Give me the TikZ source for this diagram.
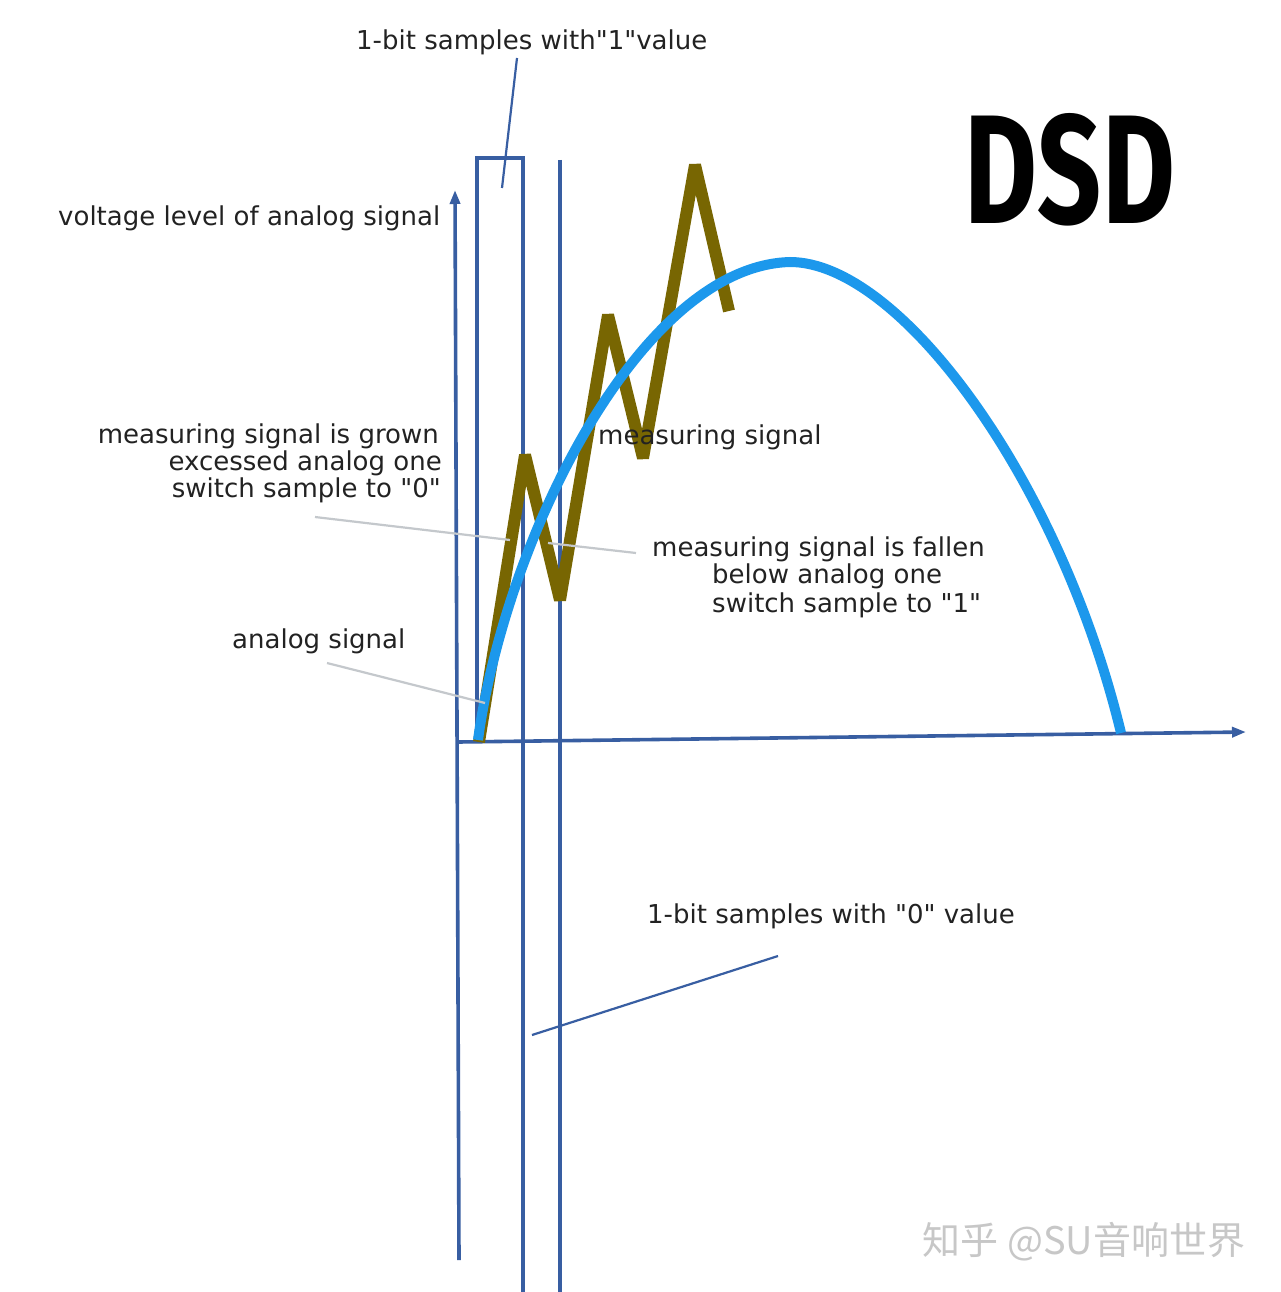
\documentclass[tikz,border=0pt]{standalone}
\usepackage{fontspec}
\setmainfont{DejaVu Sans}
\newfontfamily\cjkfont{Noto Sans CJK SC}
\newfontfamily\dsdfont{Fira Sans}
\usetikzlibrary{arrows.meta}
\definecolor{axisblue}{RGB}{56,94,162}
\definecolor{analogblue}{RGB}{28,152,236}
\definecolor{olivec}{RGB}{120,102,2}
\definecolor{leadgray}{RGB}{196,200,204}
\definecolor{txt}{RGB}{34,34,34}
\newcommand\dq{\XeTeXglyph\XeTeXcharglyph"0022\relax}
\tikzset{
  axisline/.style={draw=axisblue, line width=3.6pt},
  leadblue/.style={draw=axisblue, line width=2.2pt},
  leadgrey/.style={draw=leadgray, line width=2.2pt},
  lbl/.style={inner sep=0pt, text=txt, font=\fontsize{26}{30}\selectfont},
  tip/.style={-{Triangle[length=14pt,width=10pt]}}
}
\begin{document}
\begin{tikzpicture}[x=1pt,y=-1pt]
\useasboundingbox (0,0) rectangle (1280,1292);
\fill[white] (0,0) rectangle (1280,1292);

% coordinates
\coordinate (yb) at (459,1260);
\coordinate (yt) at (455,190);
\coordinate (xl) at (458,742);
\coordinate (xr) at (1246,732);
\coordinate (b1) at (477,740);
\coordinate (b2) at (477,158);
\coordinate (b3) at (523,158);
\coordinate (b4) at (523,1292);
\coordinate (v1) at (560,160);
\coordinate (v2) at (560,1292);

% axes and sample lines
\draw[axisline,tip] (yb) -- (yt);
\draw[axisline,tip] (xl) -- (xr);
\draw[axisline,line join=miter] (b1) -- (b2) -- (b3) -- (b4);
\draw[axisline] (v1) -- (v2);

% measuring signal
\draw[draw=olivec, line width=12pt, line join=bevel]
  (479,742) -- (525,455) -- (560,600) -- (608,315) -- (643,458) -- (695,165) -- (729,311);

% analog signal
\draw[draw=analogblue, line width=10pt]
  (478,740) .. controls (505,540) and (640,266) .. (790,262)
            .. controls (900,262) and (1060,480) .. (1121,733);

% labels
\node[lbl, anchor=base west] (t1) at (356,50) {1-bit samples with\dq1\dq value};
\node[lbl, anchor=base west] (t2) at (58,225) {voltage level of analog signal};
\node[lbl, anchor=base east] (g1) at (439,443) {measuring signal is grown};
\node[lbl, anchor=base east] (g2) at (442,470) {excessed analog one};
\node[lbl, anchor=base east] (g3) at (441,497) {switch sample to \dq0\dq};
\node[lbl, anchor=base west] (ms) at (598,444) {measuring signal};
\node[lbl, anchor=base west] (f1) at (652,556) {measuring signal is fallen};
\node[lbl, anchor=base west] (f2) at (712,583) {below analog one};
\node[lbl, anchor=base west] (f3) at (712,612) {switch sample to \dq1\dq};
\node[lbl, anchor=base west] (an) at (232,648) {analog signal};
\node[lbl, anchor=base west] (t0) at (647,923) {1-bit samples with \dq0\dq{} value};

% leaders
\coordinate (l1a) at (517,58);  \coordinate (l1b) at (502,188);
\coordinate (l2a) at (315,517); \coordinate (l2b) at (510,540);
\coordinate (l3a) at (636,553); \coordinate (l3b) at (548,543);
\coordinate (l4a) at (327,663); \coordinate (l4b) at (485,703);
\coordinate (l5a) at (778,956); \coordinate (l5b) at (532,1035);
\draw[leadblue] (l1a) -- (l1b);
\draw[leadgrey] (l2a) -- (l2b);
\draw[leadgrey] (l3a) -- (l3b);
\draw[leadgrey] (l4a) -- (l4b);
\draw[leadblue] (l5a) -- (l5b);

% title
\node[inner sep=0pt] (dsd) at (1070,170) {\resizebox{210pt}{110pt}{\dsdfont\bfseries DSD}};

% watermark
\node[inner sep=0pt, text=black!22, font=\cjkfont\fontsize{38}{42}\selectfont] (wm) at (1084,1242) {知乎 @SU音响世界};
\end{tikzpicture}
\end{document}
